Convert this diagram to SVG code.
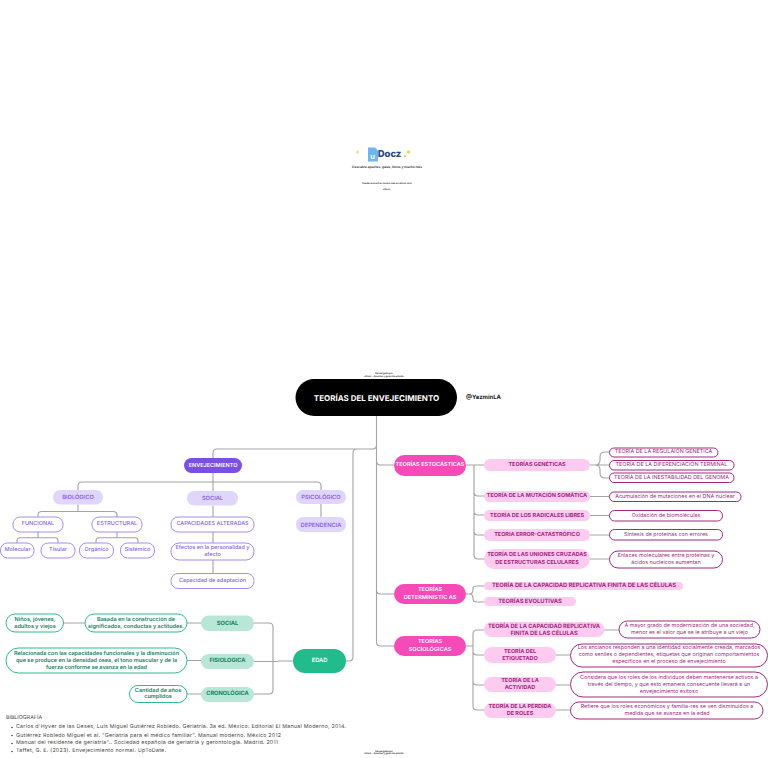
<svg xmlns="http://www.w3.org/2000/svg" width="768" height="758" viewBox="0 0 768 758">
<style>
text{font-family:"Inter","Liberation Sans",sans-serif;text-anchor:middle;dominant-baseline:central;text-rendering:geometricPrecision}
.c path{fill:none;stroke:#a3a3a3;stroke-width:1.100}
.pv rect{fill:#e0d6fb}.pv text{fill:#8a63ec;font-size:5.7px;font-weight:600}
.ov rect{fill:#fff;stroke:#a98bf2;stroke-width:1}.ov text{fill:#8a63ec;font-size:5.500px;font-weight:500}
.pp rect{fill:#fdcbf0}.pp text{fill:#a3277f;font-size:5.500px;font-weight:700}
.op rect{fill:#fff;stroke:#a3277f;stroke-width:1}.op text{fill:#a3277f;font-size:5.400px;font-weight:400}
.pk rect{fill:#f74ab9}.pk text{fill:#fff;font-size:5.6px;font-weight:600}
.pg rect{fill:#b9e7d7}.pg text{fill:#157f60;font-size:5.7px;font-weight:700}
.og rect{fill:#fff;stroke:#2cbb90;stroke-width:1}.og text{fill:#157f60;font-size:5.500px;font-weight:600}
.bib{text-anchor:start;fill:#444;font-size:5.3px}
.t{font-size:2.300px;fill:#222;font-weight:600}
</style>
<rect width="768" height="758" fill="#fff"/>
<g id="logo">
<path d="M368 147.500h7l3 3v11h-10z" fill="#6db6ee"/>
<text x="372.500" y="156.500" style="font-size:7.500px;font-weight:700" fill="#fff">u</text>
<text x="389.500" y="154.500" style="font-size:9.500px;font-weight:800" fill="#2a4a7f">Docz</text>
<circle cx="357.500" cy="152" r="1.500" fill="#f3dd8a"/><circle cx="408.500" cy="152" r="1.800" fill="#f2d565"/><circle cx="405" cy="156" r="1.200" fill="#f2d565"/>
<text class="t" x="387" y="167" style="font-size:3.200px">Descubre apuntes, guías, libros y mucho más</text>
<text class="t" x="387" y="183">Puedes encontrar mucho más en uDocz.com</text>
<text class="t" x="386.500" y="189">uDocz</text>
</g>
<g id="tiny-top"><text class="t" x="384" y="373.500">Descargado por</text><text class="t" x="384" y="376">uDocz - Apuntes y guías de estudio</text></g>
<g id="tiny-bottom"><text class="t" x="384" y="751">Descargado por</text><text class="t" x="384" y="753.500">uDocz - Apuntes y guías de estudio</text></g>
<g class="c" id="connectors">
<path d="M376.500 416V642q0 4 4 4H394M376.500 461q0 4 4 4H394M376.500 590q0 4 4 4H394"/>
<path d="M376.500 445q0 4-4 4H217q-4 0-4 4v5M357 449q-4 0-4 4V657q0 4-4 4h-3"/>
<path d="M466 465H484M474 465V555q0 4 4 4h6M474 492q0 4 4 4h6M474 511q0 4 4 4h6M474 531q0 4 4 4h6"/>
<path d="M590 465h5q5 0 5-5v-3q0-5 5-5h4M595 465h14M595 465q5 0 5 5v3q0 5 5 5h4"/>
<path d="M590 496.500h19M590 515.500h19M590 535h19M590 559h19"/>
<path d="M466 594h3q4 0 4-4v-2q0-2 4-2h7M469 594q4 0 4 4v1q0 3 4 3h7"/>
<path d="M466 646h7M473 646V634q0-4 4-4h7M473 646V651q0 4 4 4h7M473 646V706q0 4 4 4h7M473 681q0 4 4 4h7"/>
<path d="M604 630h15M556 655h14M556 685h14M556 710h14"/>
<path d="M213 473V482M78 490v-4q0-4 4-4H317q4 0 4 4v4M213 482v9"/>
<path d="M78 504.500v7M38 517v-2q0-3.500 4-3.500H113q4 0 4 3.500v2M38 532v5.700M17 543v-2q0-3.300 3-3.300H55q3 0 3 3.300v2M117 532v5.700M96 543v-2q0-3.300 3-3.300H135q3 0 3 3.300v2"/>
<path d="M213 505.500V517M213 532V543M213 560V573.500M321 504V517"/>
<path d="M293 661H278M254 623h15q4 0 4 4v63q0 4-4 4h-15M254 661.500h24"/>
<path d="M187 623h14M64 623h21M187 660.500h14M187 694h14"/>
</g>
<g id="central"><rect x="295.500" y="379" width="161.500" height="37" rx="18.500" fill="#000"/><text x="376.500" y="397.500" fill="#fff" style="font-size:8px;font-weight:700">TEORÍAS DEL ENVEJECIMIENTO</text></g>
<g id="author"><text x="483.500" y="397" fill="#222" style="font-size:5.900px;font-weight:700">@YazminLA</text></g>
<g id="envejecimiento"><rect x="184" y="458" width="58" height="15" rx="7.500" fill="#7a4fe6"/><text x="213" y="465.500" fill="#fff" style="font-size:5.500px;font-weight:600">ENVEJECIMIENTO</text></g>
<g id="biologico" class="pv"><rect x="53" y="490" width="50" height="14.500" rx="7"/><text x="78" y="497">BIOLÓGICO</text></g>
<g id="social-l" class="pv"><rect x="187" y="491" width="51" height="14.500" rx="7"/><text x="212.500" y="498">SOCIAL</text></g>
<g id="psicologico" class="pv"><rect x="296" y="490" width="50" height="14" rx="7"/><text x="321" y="497">PSICOLÓGICO</text></g>
<g id="dependencia" class="pv"><rect x="296" y="517" width="50" height="15" rx="7"/><text x="321" y="525">DEPENDENCIA</text></g>
<g id="funcional" class="ov"><rect x="13" y="517" width="50" height="15" rx="7"/><text x="38" y="524">FUNCIONAL</text></g>
<g id="estructural" class="ov"><rect x="92" y="517" width="50" height="15" rx="7"/><text x="117" y="524">ESTRUCTURAL</text></g>
<g id="molecular" class="ov"><rect x=".5" y="543" width="33.500" height="15" rx="7"/><text x="17.500" y="550">Molecular</text></g>
<g id="tisular" class="ov"><rect x="41" y="543" width="34" height="15" rx="7"/><text x="58" y="550">Tisular</text></g>
<g id="organico" class="ov"><rect x="79.500" y="543" width="34" height="15" rx="7"/><text x="96.500" y="550">Orgánico</text></g>
<g id="sistemico" class="ov"><rect x="120.500" y="543" width="34" height="15" rx="7"/><text x="137.500" y="550">Sistémico</text></g>
<g id="capacidades" class="ov"><rect x="171" y="517" width="83" height="15" rx="7"/><text x="212.500" y="524">CAPACIDADES ALTERADAS</text></g>
<g id="efectos" class="ov"><rect x="171" y="543" width="83" height="17" rx="8"/><text x="212.500" y="547.500">Efectos en la personalidad y</text><text x="212.500" y="555">afecto</text></g>
<g id="adaptacion" class="ov"><rect x="171" y="573.500" width="83" height="15" rx="7"/><text x="212.500" y="581">Capacidad de adaptación</text></g>
<g id="estocasticas" class="pk"><rect x="394" y="455" width="72" height="21" rx="10.500"/><text x="430" y="465">TEORÍAS ESTOCÁSTICAS</text></g>
<g id="deterministicas" class="pk"><rect x="394" y="584" width="72" height="20" rx="10"/><text x="430" y="589.500">TEORÍAS</text><text x="430" y="597.500">DETERMINISTIC AS</text></g>
<g id="sociologicas" class="pk"><rect x="394" y="636" width="72" height="20" rx="10"/><text x="430" y="642">TEORÍAS</text><text x="430" y="650">SOCIOLÓGICAS</text></g>
<g id="geneticas" class="pp"><rect x="484" y="459" width="106" height="12" rx="6"/><text x="537" y="465">TEORÍAS GENÉTICAS</text></g>
<g id="mutacion" class="pp"><rect x="484" y="491" width="106" height="11" rx="5.500"/><text x="537" y="496">TEORÍA DE LA MUTACIÓN SOMÁTICA</text></g>
<g id="radicales" class="pp"><rect x="484" y="510" width="106" height="11" rx="5.500"/><text x="537" y="515.500">TEORÍA DE LOS RADICALES LIBRES</text></g>
<g id="error" class="pp"><rect x="484" y="529" width="106" height="12" rx="6"/><text x="537" y="535">TEORIA ERROR-CATASTRÓFICO</text></g>
<g id="uniones" class="pp"><rect x="484" y="549" width="106" height="20" rx="10"/><text x="537" y="555">TEORÍA DE LAS UNIONES CRUZADAS</text><text x="537" y="563">DE ESTRUCTURAS CELULARES</text></g>
<g id="replicativa-d" class="pp"><rect x="484" y="582" width="199" height="8" rx="4"/><text x="584" y="585.500" style="font-size:5.800px">TEORÍA DE LA CAPACIDAD REPLICATIVA FINITA DE LAS CÉLULAS</text></g>
<g id="evolutivas" class="pp"><rect x="484" y="597" width="92" height="9" rx="4.500"/><text x="530" y="601.500" style="font-size:5.800px">TEORÍAS EVOLUTIVAS</text></g>
<g id="replicativa-s" class="pp"><rect x="484" y="622" width="120.500" height="15" rx="7.500"/><text x="544" y="626" style="font-size:5.700px">TEORÍA DE LA CAPACIDAD REPLICATIVA</text><text x="544" y="633" style="font-size:5.700px">FINITA DE LAS CÉLULAS</text></g>
<g id="etiquetado" class="pp"><rect x="484" y="647" width="72" height="16" rx="8"/><text x="520" y="651.500">TEORÍA DEL</text><text x="520" y="658.500">ETIQUETADO</text></g>
<g id="actividad" class="pp"><rect x="484" y="677" width="72" height="15" rx="7.500"/><text x="520" y="681">TEORÍA DE LA</text><text x="520" y="688">ACTIVIDAD</text></g>
<g id="perdida" class="pp"><rect x="484" y="703" width="72" height="15" rx="7.500"/><text x="520" y="706.500">TEORÍA DE LA PÉRDIDA</text><text x="520" y="713.500">DE ROLES</text></g>
<g id="l-regulacion" class="op"><rect x="609.500" y="448" width="108.500" height="9" rx="4.500"/><text x="663.500" y="452">TEORÍA DE LA REGULAIÓN GENÉTICA</text></g>
<g id="l-diferenciacion" class="op"><rect x="609.500" y="460.500" width="124.500" height="9.500" rx="4.500"/><text x="671.500" y="465">TEORÍA DE LA DIFERENCIACIÓN TERMINAL</text></g>
<g id="l-inestabilidad" class="op"><rect x="609.500" y="473" width="124.500" height="9.500" rx="4.500"/><text x="671.500" y="478">TEORÍA DE LA INESTABILIDAD DEL GENOMA</text></g>
<g id="l-acumulacion" class="op"><rect x="609.500" y="492" width="131.500" height="9.500" rx="4.500"/><text x="675" y="496.500">Acumulación de mutaciones en el DNA nuclear</text></g>
<g id="l-oxidacion" class="op"><rect x="609.500" y="510.500" width="113" height="10.500" rx="5"/><text x="666" y="515.500">Oxidación de biomoléculas</text></g>
<g id="l-sintesis" class="op"><rect x="609.500" y="529.500" width="113" height="10.500" rx="5"/><text x="666" y="535">Síntesis de proteínas con errores</text></g>
<g id="l-enlaces" class="op"><rect x="609.500" y="551" width="113" height="17" rx="8.500"/><text x="666" y="555.500">Enlaces moleculares entre proteínas y</text><text x="666" y="563">ácidos nucleicos aumentan</text></g>
<g id="l-modernizacion" class="op"><rect x="619" y="621" width="141" height="17" rx="8.500"/><text x="689.500" y="626">A mayor grado de modernización de una sociedad,</text><text x="689.500" y="633">menor es el valor que se le atribuye a un viejo</text></g>
<g id="l-ancianos" class="op"><rect x="570.500" y="644" width="197" height="23" rx="11.500"/><text x="669" y="647.500">Los ancianos responden a una identidad socialmente creada, marcados</text><text x="669" y="655">como seniles o dependientes, etiquetas que originan comportamientos</text><text x="669" y="662">específicos en el proceso de envejecimiento</text></g>
<g id="l-roles" class="op"><rect x="570.500" y="672" width="197" height="25" rx="12.500"/><text x="669" y="677.500">Considera que los roles de los individuos deben mantenerse activos a</text><text x="669" y="684.500">través del tiempo, y que esto emanera consecuente llevará a un</text><text x="669" y="691.500">envejecimiento exitoso</text></g>
<g id="l-economicos" class="op"><rect x="570.500" y="702" width="192.500" height="17" rx="8.500"/><text x="667" y="706.500">Refiere que los roles económicos y familia-res se ven disminuidos a</text><text x="667" y="713.500">medida que se avanza en la edad</text></g>
<g id="edad"><rect x="293" y="649" width="53" height="24" rx="12" fill="#22bb8b"/><text x="319.500" y="660.500" fill="#fff" style="font-size:5.700px;font-weight:600">EDAD</text></g>
<g id="social-e" class="pg"><rect x="201" y="615.500" width="53" height="15.500" rx="7.500"/><text x="227.500" y="623">SOCIAL</text></g>
<g id="fisiologica" class="pg"><rect x="201" y="654" width="53" height="15" rx="7.500"/><text x="227.500" y="660.500">FISIOLOGICA</text></g>
<g id="cronologica" class="pg"><rect x="201" y="687" width="53" height="15" rx="7.500"/><text x="227.500" y="693.500">CRONOLÓGICA</text></g>
<g id="basada" class="og"><rect x="85" y="614" width="102" height="18" rx="9"/><text x="136" y="619.500">Basada en la construcción de</text><text x="136" y="626.500">significados, conductas y actitudes.</text></g>
<g id="ninos" class="og"><rect x="6" y="614" width="57.500" height="18" rx="9"/><text x="35" y="619.500">Niños, jóvenes,</text><text x="35" y="626.500">adultos y viejos</text></g>
<g id="relacionada" class="og"><rect x="6" y="648" width="181" height="25" rx="12.500"/><text x="96.500" y="654">Relacionada con las capacidades funcionales y la disminución</text><text x="96.500" y="660.500">que se produce en la densidad ósea, el tono muscular y de la</text><text x="96.500" y="667.500">fuerza conforme se avanza en la edad</text></g>
<g id="cantidad" class="og"><rect x="129.500" y="685.500" width="57.500" height="17" rx="8.500"/><text x="158" y="690.500">Cantidad de años</text><text x="158" y="697">cumplidos</text></g>
<g id="bibliografia">
<text class="bib" x="6" y="718">BIBLIOGRAFÍA</text>
<circle cx="12" cy="727.500" r=".8" fill="#444"/><text class="bib" x="16" y="727" textLength="330">Carlos d'Hyver de las Deses, Luis Miguel Gutiérrez Robledo. Geriatría. 3a ed. México: Editorial El Manual Moderno, 2014.</text>
<circle cx="12" cy="735.500" r=".8" fill="#444"/><text class="bib" x="16" y="735.500" textLength="265">Gutiérrez Robledo Miguel et al. "Geriatría para el médico familiar". Manual moderno. México 2012</text>
<circle cx="12" cy="743.500" r=".8" fill="#444"/><text class="bib" x="16" y="743" textLength="262">Manual del residente de geriatría".. Sociedad española de geriatría y gerontología. Madrid. 2011</text>
<circle cx="12" cy="751.500" r=".8" fill="#444"/><text class="bib" x="16" y="751" textLength="150">Taffet, G. E. (2023). Envejecimiento normal. UpToDate.</text>
</g>
</svg>
